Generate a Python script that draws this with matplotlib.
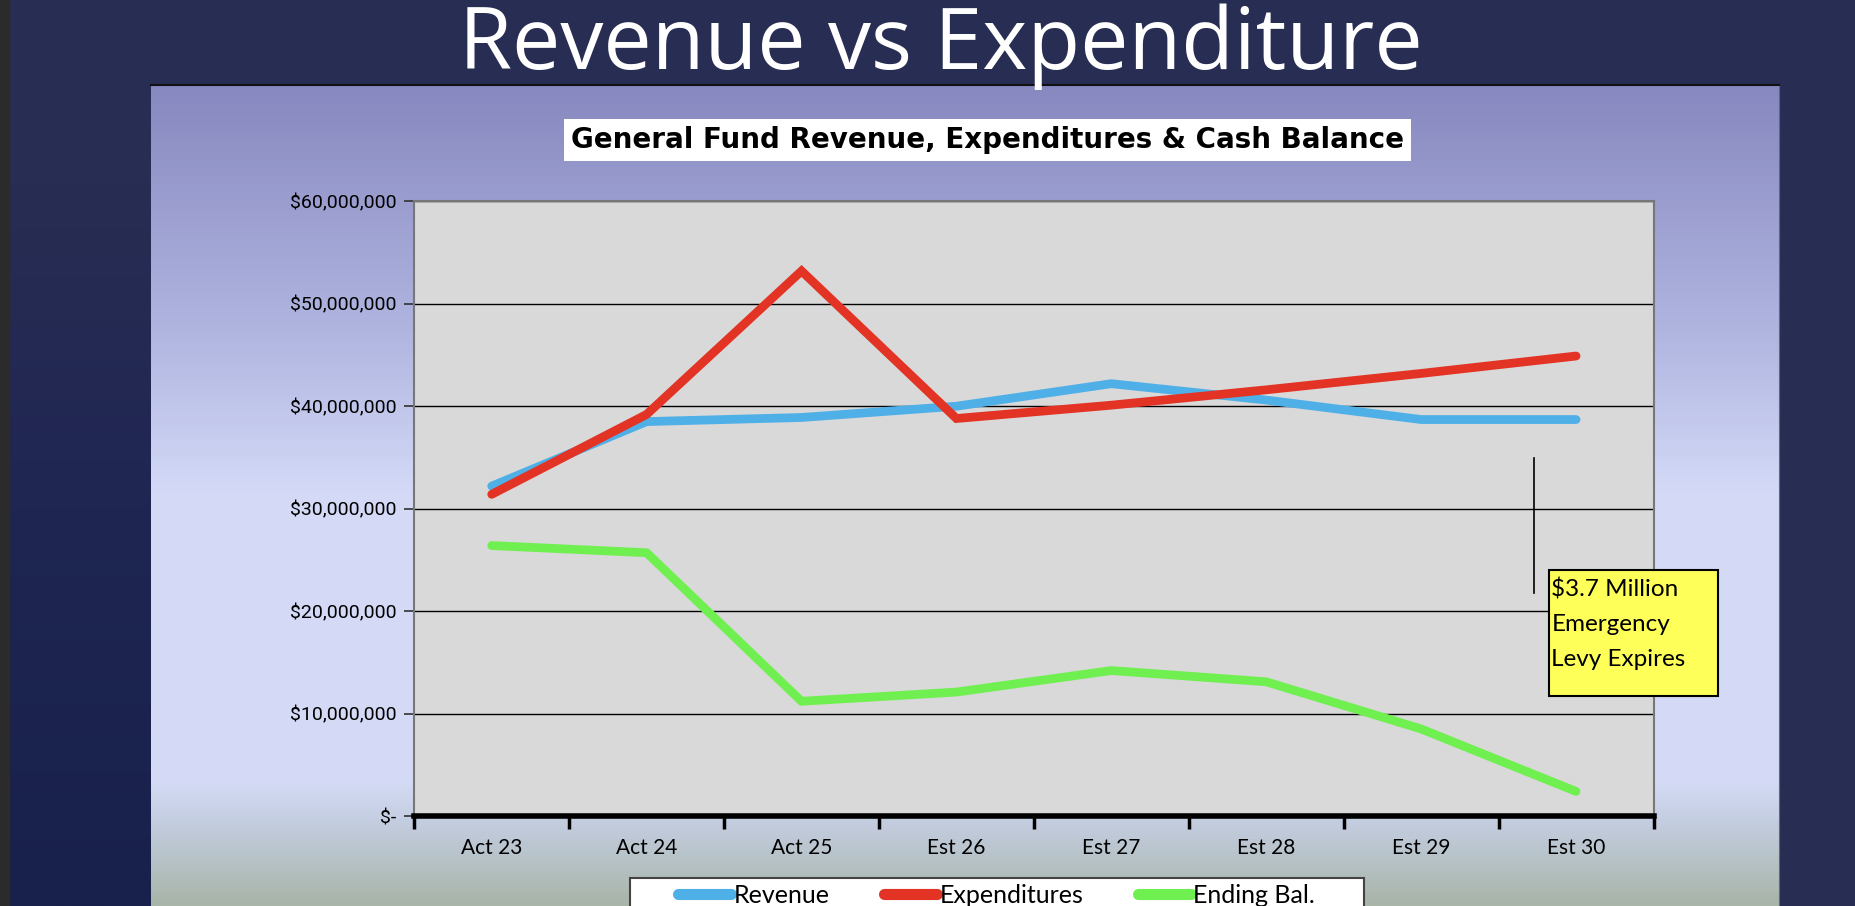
import matplotlib
matplotlib.use("Agg")
import matplotlib.pyplot as plt
import numpy as np
from matplotlib.colors import LinearSegmentedColormap
from matplotlib.patches import Rectangle
from matplotlib.ticker import FuncFormatter, FixedLocator

# dati
years = ["Act 23", "Act 24", "Act 25", "Est 26", "Est 27", "Est 28", "Est 29", "Est 30"]
revenue = [32.2e6, 38.5e6, 38.9e6, 40.0e6, 42.2e6, 40.6e6, 38.7e6, 38.7e6]
expenditures = [31.4e6, 39.2e6, 53.2e6, 38.8e6, 40.1e6, 41.6e6, 43.2e6, 44.9e6]
ending_bal = [26.4e6, 25.7e6, 11.2e6, 12.1e6, 14.2e6, 13.1e6, 8.5e6, 2.4e6]
levy_note = "$3.7 Million\nEmergency\nLevy Expires"

fig = plt.figure(figsize=(18.56, 9.06), dpi=100)
fig.patch.set_facecolor("#282d53")

# striscia scura a sinistra
fig.patches.append(Rectangle((0, 0), 0.005, 1, transform=fig.transFigure, color="#2b2b2b", zorder=0))

# fascia sinistra con sfumatura
left = fig.add_axes([0.005, 0.0, 0.077, 0.8], zorder=0)
left_cmap = LinearSegmentedColormap.from_list("left", [(0.0, "#282d53"), (0.45, "#1f2652"), (1.0, "#18204c")])
left.imshow(np.linspace(0, 1, 256).reshape(-1, 1), aspect="auto", cmap=left_cmap, extent=[0, 1, 0, 1])
left.axis("off")

# pannello del grafico con gradiente
bg = fig.add_axes([0.0816, 0.0, 0.877, 0.9062], zorder=0)
cmap = LinearSegmentedColormap.from_list("panel", [
    (0.0, "#8788bf"), (0.3, "#b0b5e0"), (0.5, "#d4daf7"), (0.85, "#d4dbf5"),
    (0.9, "#c3cde0"), (1.0, "#a8b5a8")])
bg.imshow(np.linspace(0, 1, 256).reshape(-1, 1), aspect="auto", cmap=cmap, extent=[0, 1, 0, 1])
bg.set_xticks([])
bg.set_yticks([])
for s in bg.spines.values():
    s.set_visible(False)
bg.spines["top"].set_visible(True)
bg.spines["top"].set_color("#111111")
bg.spines["top"].set_linewidth(1.5)
bg.spines["right"].set_visible(True)
bg.spines["right"].set_color("#666677")

# titolo principale
fig.text(0.507, 0.924, "Revenue vs Expenditure", color="white", fontsize=62,
         family="Open Sans", ha="center", va="baseline")

# titolo del grafico
fig.text(0.532, 0.845, "General Fund Revenue, Expenditures & Cash Balance", color="black",
         fontsize=20, fontweight="bold", family="DejaVu Sans", ha="center", va="center",
         bbox=dict(facecolor="white", edgecolor="none", pad=5))

ax = fig.add_axes([0.2232, 0.0993, 0.6677, 0.6785], zorder=2)
ax.set_facecolor("#d9d9d9")
x = np.arange(len(years))

kw = dict(lw=6.3, solid_capstyle="round", solid_joinstyle="miter")
ax.plot(x, revenue, color="#4fb0e8", label="Revenue", **kw)
ax.plot(x, expenditures, color="#e33324", label="Expenditures", **kw)
ax.plot(x, ending_bal, color="#70f050", label="Ending Bal.", **kw)

ax.set_xlim(-0.5, len(years) - 0.5)
ax.set_ylim(0, 60e6)
ax.set_yticks(np.arange(0, 60e6 + 1, 10e6))
ax.yaxis.set_major_formatter(FuncFormatter(lambda v, p: "$-" if v == 0 else "${:,.0f}".format(v)))
ax.grid(axis="y", color="black", lw=1)
ax.set_axisbelow(True)

ax.set_xticks(x)
ax.set_xticklabels(years, family="Lato", fontsize=15)
ax.xaxis.set_minor_locator(FixedLocator(np.arange(-0.5, len(years), 1.0)))
ax.tick_params(axis="x", which="major", length=0, pad=16)
ax.tick_params(axis="x", which="minor", length=9, width=2.5, color="black", direction="out")
ax.tick_params(axis="y", length=7, width=1.2, color="#333333", labelsize=14, pad=6)
for lab in ax.get_yticklabels():
    lab.set_family("Roboto")

for side in ["top", "right", "left"]:
    ax.spines[side].set_color("#777777")
    ax.spines[side].set_linewidth(1.5)
ax.spines["bottom"].set_color("black")
ax.spines["bottom"].set_linewidth(4)

# annotazione levy
ax.plot([6.73, 6.73], [21.8e6, 34.9e6], color="black", lw=1.2)
ax.add_patch(Rectangle((6.826, 11.7e6), 1.092, 12.35e6, facecolor="#ffff5a", edgecolor="black",
                       lw=1.5, clip_on=False, zorder=5))
ax.text(6.840, 23.2e6, levy_note, family="Lato", fontsize=17.5, va="top", ha="left",
        linespacing=1.8, clip_on=False, zorder=6)

# riquadro della legenda (piu' largo del frame standard)
ax.add_patch(Rectangle((0.1738, -0.25), 0.5922, 0.1498, transform=ax.transAxes, facecolor="white",
                       edgecolor="#444444", lw=1.5, clip_on=False, zorder=4))
leg = ax.legend(loc="upper center", bbox_to_anchor=(0.47, -0.100), ncol=3, frameon=False,
                prop={"family": "Lato", "size": 18}, handlelength=2.1, columnspacing=2.2,
                handletextpad=0.1, borderpad=0.25, borderaxespad=0)
leg.set_zorder(6)
for h in leg.get_lines():
    h.set_linewidth(8)

fig.savefig("out.png", dpi=100, facecolor=fig.get_facecolor())
